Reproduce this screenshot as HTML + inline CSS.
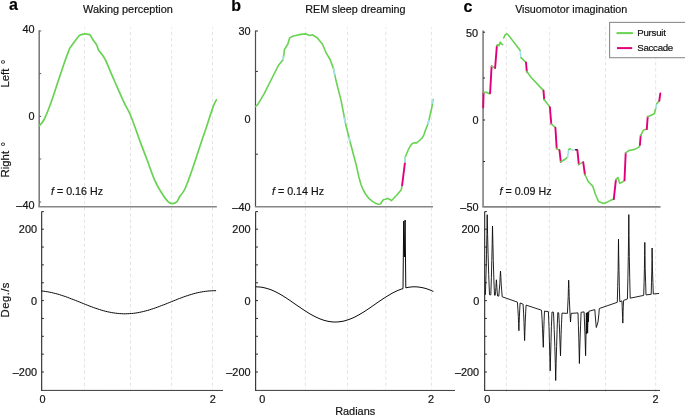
<!DOCTYPE html>
<html><head><meta charset="utf-8"><title>Figure</title>
<style>
html,body{margin:0;padding:0;background:#fff;}
body{width:685px;height:415px;overflow:hidden;}
svg{display:block;font-family:"Liberation Sans",sans-serif;fill:#141414;}
text{stroke:#141414;stroke-width:0.2px;}
</style></head><body>
<svg width="685" height="415" viewBox="0 0 685 415">
<rect x="0" y="0" width="685" height="415" fill="#fff"/>
<line x1="84.5" y1="27.5" x2="84.5" y2="389.5" stroke="#e1e1e1" stroke-width="0.9" stroke-dasharray="3.4 2.647" stroke-dashoffset="1.7"/>
<line x1="130.5" y1="27.5" x2="130.5" y2="389.5" stroke="#e1e1e1" stroke-width="0.9" stroke-dasharray="3.4 2.647" stroke-dashoffset="1.7"/>
<line x1="171.6" y1="27.5" x2="171.6" y2="389.5" stroke="#e1e1e1" stroke-width="0.9" stroke-dasharray="3.4 2.647" stroke-dashoffset="1.7"/>
<line x1="212.5" y1="27.5" x2="212.5" y2="389.5" stroke="#e1e1e1" stroke-width="0.9" stroke-dasharray="3.4 2.647" stroke-dashoffset="1.7"/>
<line x1="305.4" y1="27.5" x2="305.4" y2="389.5" stroke="#e1e1e1" stroke-width="0.9" stroke-dasharray="3.4 2.647" stroke-dashoffset="1.7"/>
<line x1="347.5" y1="27.5" x2="347.5" y2="389.5" stroke="#e1e1e1" stroke-width="0.9" stroke-dasharray="3.4 2.647" stroke-dashoffset="1.7"/>
<line x1="385.8" y1="27.5" x2="385.8" y2="389.5" stroke="#e1e1e1" stroke-width="0.9" stroke-dasharray="3.4 2.647" stroke-dashoffset="1.7"/>
<line x1="431.4" y1="27.5" x2="431.4" y2="389.5" stroke="#e1e1e1" stroke-width="0.9" stroke-dasharray="3.4 2.647" stroke-dashoffset="1.7"/>
<line x1="506.4" y1="27.5" x2="506.4" y2="395" stroke="#e1e1e1" stroke-width="0.9" stroke-dasharray="3.4 2.647" stroke-dashoffset="1.7"/>
<line x1="549.4" y1="27.5" x2="549.4" y2="395" stroke="#e1e1e1" stroke-width="0.9" stroke-dasharray="3.4 2.647" stroke-dashoffset="1.7"/>
<line x1="605.5" y1="27.5" x2="605.5" y2="395" stroke="#e1e1e1" stroke-width="0.9" stroke-dasharray="3.4 2.647" stroke-dashoffset="1.7"/>
<line x1="655.7" y1="27.5" x2="655.7" y2="395" stroke="#e1e1e1" stroke-width="0.9" stroke-dasharray="3.4 2.647" stroke-dashoffset="1.7"/>
<line x1="39.2" y1="30.3" x2="39.2" y2="207" stroke="#7d7d7d" stroke-width="1.6" />
<line x1="38.4" y1="206.8" x2="216.8" y2="206.8" stroke="#858585" stroke-width="1.6" />
<line x1="39.3" y1="31" x2="41.2" y2="31" stroke="#5a5a5a" stroke-width="1" />
<line x1="39.3" y1="73.6" x2="41.2" y2="73.6" stroke="#5a5a5a" stroke-width="1" />
<line x1="39.3" y1="116.4" x2="41.2" y2="116.4" stroke="#5a5a5a" stroke-width="1" />
<line x1="39.3" y1="159" x2="41.2" y2="159" stroke="#5a5a5a" stroke-width="1" />
<line x1="39.3" y1="202" x2="41.2" y2="202" stroke="#5a5a5a" stroke-width="1" />
<line x1="41.65" y1="211.5" x2="41.65" y2="391" stroke="#3a3a3a" stroke-width="1.2" />
<line x1="41.05" y1="390.4" x2="223" y2="390.45" stroke="#3a3a3a" stroke-width="1.0" />
<line x1="41.8" y1="211.6" x2="43.9" y2="211.6" stroke="#2a2a2a" stroke-width="1" />
<line x1="41.8" y1="229.2" x2="43.9" y2="229.2" stroke="#2a2a2a" stroke-width="1" />
<line x1="41.8" y1="247.04999999999998" x2="43.9" y2="247.04999999999998" stroke="#2a2a2a" stroke-width="1" />
<line x1="41.8" y1="264.9" x2="43.9" y2="264.9" stroke="#2a2a2a" stroke-width="1" />
<line x1="41.8" y1="282.75" x2="43.9" y2="282.75" stroke="#2a2a2a" stroke-width="1" />
<line x1="41.8" y1="300.6" x2="43.9" y2="300.6" stroke="#2a2a2a" stroke-width="1" />
<line x1="41.8" y1="318.45" x2="43.9" y2="318.45" stroke="#2a2a2a" stroke-width="1" />
<line x1="41.8" y1="336.3" x2="43.9" y2="336.3" stroke="#2a2a2a" stroke-width="1" />
<line x1="41.8" y1="354.15" x2="43.9" y2="354.15" stroke="#2a2a2a" stroke-width="1" />
<line x1="41.8" y1="372.0" x2="43.9" y2="372.0" stroke="#2a2a2a" stroke-width="1" />
<line x1="255.5" y1="30.5" x2="255.5" y2="207" stroke="#4c4c4c" stroke-width="1.2" />
<line x1="254.9" y1="206.8" x2="433" y2="206.8" stroke="#858585" stroke-width="1.6" />
<line x1="255.8" y1="31" x2="257.9" y2="31" stroke="#2a2a2a" stroke-width="1" />
<line x1="255.8" y1="71.4" x2="257.9" y2="71.4" stroke="#2a2a2a" stroke-width="1" />
<line x1="255.8" y1="154.2" x2="257.9" y2="154.2" stroke="#2a2a2a" stroke-width="1" />
<line x1="255.6" y1="211.5" x2="255.6" y2="391" stroke="#3a3a3a" stroke-width="1.2" />
<line x1="255.0" y1="390.4" x2="455" y2="390.45" stroke="#3a3a3a" stroke-width="1.0" />
<line x1="255.9" y1="211.6" x2="258.0" y2="211.6" stroke="#2a2a2a" stroke-width="1" />
<line x1="255.9" y1="229.2" x2="258.0" y2="229.2" stroke="#2a2a2a" stroke-width="1" />
<line x1="255.9" y1="247.04999999999998" x2="258.0" y2="247.04999999999998" stroke="#2a2a2a" stroke-width="1" />
<line x1="255.9" y1="264.9" x2="258.0" y2="264.9" stroke="#2a2a2a" stroke-width="1" />
<line x1="255.9" y1="282.75" x2="258.0" y2="282.75" stroke="#2a2a2a" stroke-width="1" />
<line x1="255.9" y1="300.6" x2="258.0" y2="300.6" stroke="#2a2a2a" stroke-width="1" />
<line x1="255.9" y1="318.45" x2="258.0" y2="318.45" stroke="#2a2a2a" stroke-width="1" />
<line x1="255.9" y1="336.3" x2="258.0" y2="336.3" stroke="#2a2a2a" stroke-width="1" />
<line x1="255.9" y1="354.15" x2="258.0" y2="354.15" stroke="#2a2a2a" stroke-width="1" />
<line x1="255.9" y1="372.0" x2="258.0" y2="372.0" stroke="#2a2a2a" stroke-width="1" />
<line x1="483.05" y1="30.5" x2="483.05" y2="207" stroke="#4c4c4c" stroke-width="1.15" />
<line x1="482.5" y1="206.9" x2="660.5" y2="206.9" stroke="#858585" stroke-width="1.6" />
<line x1="483.0" y1="32.2" x2="485.1" y2="32.2" stroke="#2a2a2a" stroke-width="1" />
<line x1="483.0" y1="78" x2="485.1" y2="78" stroke="#2a2a2a" stroke-width="1" />
<line x1="483.0" y1="120" x2="485.1" y2="120" stroke="#2a2a2a" stroke-width="1" />
<line x1="483.0" y1="161.5" x2="485.1" y2="161.5" stroke="#2a2a2a" stroke-width="1" />
<line x1="484.65" y1="211.5" x2="484.65" y2="391" stroke="#3a3a3a" stroke-width="1.2" />
<line x1="484.05" y1="390.4" x2="660" y2="390.45" stroke="#3a3a3a" stroke-width="1.0" />
<line x1="484.8" y1="211.6" x2="486.9" y2="211.6" stroke="#2a2a2a" stroke-width="1" />
<line x1="484.8" y1="229.2" x2="486.9" y2="229.2" stroke="#2a2a2a" stroke-width="1" />
<line x1="484.8" y1="247.04999999999998" x2="486.9" y2="247.04999999999998" stroke="#2a2a2a" stroke-width="1" />
<line x1="484.8" y1="264.9" x2="486.9" y2="264.9" stroke="#2a2a2a" stroke-width="1" />
<line x1="484.8" y1="282.75" x2="486.9" y2="282.75" stroke="#2a2a2a" stroke-width="1" />
<line x1="484.8" y1="300.6" x2="486.9" y2="300.6" stroke="#2a2a2a" stroke-width="1" />
<line x1="484.8" y1="318.45" x2="486.9" y2="318.45" stroke="#2a2a2a" stroke-width="1" />
<line x1="484.8" y1="336.3" x2="486.9" y2="336.3" stroke="#2a2a2a" stroke-width="1" />
<line x1="484.8" y1="354.15" x2="486.9" y2="354.15" stroke="#2a2a2a" stroke-width="1" />
<line x1="484.8" y1="372.0" x2="486.9" y2="372.0" stroke="#2a2a2a" stroke-width="1" />
<path d="M39.4,125.6 C40.2,124.6 42.1,123.4 44.1,119.5 C46.1,115.6 48.8,108.6 51.1,102.2 C53.5,95.8 56.1,87.3 58.2,81.0 C60.3,74.7 62.4,68.4 63.9,64.1 C65.4,59.7 66.2,57.5 67.2,54.9 C68.2,52.3 68.9,50.1 69.6,48.6 C70.3,47.1 70.6,47.1 71.6,45.7 C72.6,44.3 74.1,42.1 75.4,40.4 C76.7,38.7 78.2,36.6 79.3,35.6 C80.4,34.6 81.2,34.7 82.2,34.4 C83.2,34.1 84.0,33.9 85.1,33.9 C86.1,33.9 87.6,34.1 88.5,34.3 C89.4,34.5 89.6,34.3 90.3,35.2 C91.0,36.1 91.8,37.9 92.8,39.5 C93.8,41.1 95.6,43.0 96.6,44.8 C97.6,46.6 97.6,48.4 98.6,50.1 C99.6,51.8 101.3,53.3 102.4,54.9 C103.5,56.5 104.5,58.2 105.3,59.7 C106.1,61.2 105.8,60.5 107.3,64.1 C108.8,67.6 111.7,74.7 114.5,81.0 C117.3,87.3 121.2,96.3 123.9,102.2 C126.6,108.1 128.2,109.6 130.9,116.2 C133.6,122.8 137.6,134.7 140.3,142.1 C143.1,149.5 145.1,154.6 147.4,160.8 C149.8,167.1 152.1,174.3 154.4,179.6 C156.8,184.9 159.2,189.1 161.5,192.8 C163.8,196.5 166.2,199.8 168.0,201.6 C169.8,203.4 170.9,203.6 172.4,203.6 C173.9,203.6 175.8,202.7 177.0,201.6 C178.2,200.5 178.2,198.9 179.5,196.8 C180.8,194.7 182.8,193.4 184.9,189.0 C187.0,184.6 189.7,176.8 192.0,170.2 C194.3,163.5 196.7,156.1 199.0,149.1 C201.3,142.1 203.8,135.0 206.1,128.0 C208.4,121.0 211.4,111.6 213.1,106.9 C214.8,102.2 215.8,101.0 216.4,99.8" fill="none" stroke="#68d352" stroke-width="1.7" stroke-linecap="round" stroke-linejoin="round"/>
<polyline points="255.6,106.5 257.9,104.3 264.2,93.7 271.8,78.5 278.2,65.8 283.2,59.5 284.5,49.4 287.8,44.3 289.6,38.0 293.4,36.0 300.9,34.4 306.0,33.9 309.8,35.4 312.3,34.7 317.4,38.0 322.5,44.3 326.3,53.2 330.1,59.5 333.4,68.4 336.4,82.3 341.0,100.1 345.8,124.7 350.1,142.0 355.9,163.7 358.8,176.7 361.0,184.5 363.1,189.7 365.5,194.0 368.9,198.4 372.5,201.3 376.1,203.6 378.5,204.3 380.5,204.0 382.0,201.5 383.4,199.8 385.5,199.2 387.7,198.4 389.5,199.2 391.4,200.7 393.5,198.5 396.4,195.5 401.3,189.7 402.1,185.4" fill="none" stroke="#68d352" stroke-width="1.6" stroke-linejoin="round" stroke-linecap="round" />
<polyline points="283.1,56.5 283.3,60.0" fill="none" stroke="#a5e0ee" stroke-width="1.6" stroke-linejoin="round" stroke-linecap="round" />
<polyline points="333.5,68.6 334.6,74.5" fill="none" stroke="#a5e0ee" stroke-width="1.6" stroke-linejoin="round" stroke-linecap="round" />
<polyline points="344.3,118.0 345.2,122.5" fill="none" stroke="#a5e0ee" stroke-width="1.6" stroke-linejoin="round" stroke-linecap="round" />
<polyline points="348.8,137.5 349.8,141.0" fill="none" stroke="#a5e0ee" stroke-width="1.6" stroke-linejoin="round" stroke-linecap="round" />
<polyline points="402.1,185.4 405.0,162.3" fill="none" stroke="#e2007a" stroke-width="1.9" stroke-linejoin="round" stroke-linecap="round" />
<polyline points="405.0,162.3 405.3,157.0 407.9,150.7 410.0,146.5 412.3,143.5 414.5,142.8 416.6,142.9 419.5,140.5 422.4,137.7 424.0,134.5 425.3,130.5 428.2,123.2 430.2,114.6 431.9,107.3 432.6,101.6 433.1,99.6" fill="none" stroke="#68d352" stroke-width="1.6" stroke-linejoin="round" stroke-linecap="round" />
<polyline points="405.0,162.3 405.3,157.5" fill="none" stroke="#a5e0ee" stroke-width="1.6" stroke-linejoin="round" stroke-linecap="round" />
<polyline points="428.0,123.8 428.9,120.5" fill="none" stroke="#a5e0ee" stroke-width="1.6" stroke-linejoin="round" stroke-linecap="round" />
<polyline points="432.2,103.0 432.7,100.0" fill="none" stroke="#a5e0ee" stroke-width="1.6" stroke-linejoin="round" stroke-linecap="round" />
<polyline points="483.2,107.5 483.6,92.4" fill="none" stroke="#e2007a" stroke-width="1.9" stroke-linejoin="round" stroke-linecap="round" />
<polyline points="483.6,92.4 486.5,92.2 489.3,93.7" fill="none" stroke="#68d352" stroke-width="1.6" stroke-linejoin="round" stroke-linecap="round" />
<polyline points="490.1,93.2 491.6,66.3" fill="none" stroke="#e2007a" stroke-width="1.9" stroke-linejoin="round" stroke-linecap="round" />
<polyline points="491.6,66.3 493.5,67.0 495.1,68.4" fill="none" stroke="#68d352" stroke-width="1.6" stroke-linejoin="round" stroke-linecap="round" />
<polyline points="495.1,67.8 496.9,45.6" fill="none" stroke="#e2007a" stroke-width="1.9" stroke-linejoin="round" stroke-linecap="round" />
<polyline points="496.9,45.6 498.0,44.6 499.0,45.6 500.2,42.0 501.4,44.0 502.7,44.6" fill="none" stroke="#68d352" stroke-width="1.6" stroke-linejoin="round" stroke-linecap="round" />
<polyline points="503.7,38.0 505.0,35.0 507.0,33.7 508.5,35.2 520.2,50.6" fill="none" stroke="#68d352" stroke-width="1.6" stroke-linejoin="round" stroke-linecap="round" />
<polyline points="520.2,51.5 521.0,57.7" fill="none" stroke="#a5e0ee" stroke-width="1.6" stroke-linejoin="round" stroke-linecap="round" />
<polyline points="521.0,57.7 526.0,62.5" fill="none" stroke="#68d352" stroke-width="1.6" stroke-linejoin="round" stroke-linecap="round" />
<polyline points="526.0,62.5 526.8,71.6" fill="none" stroke="#e2007a" stroke-width="1.9" stroke-linejoin="round" stroke-linecap="round" />
<polyline points="526.8,71.6 531.0,77.2 543.5,90.6" fill="none" stroke="#68d352" stroke-width="1.6" stroke-linejoin="round" stroke-linecap="round" />
<polyline points="543.5,90.6 544.2,99.5" fill="none" stroke="#e2007a" stroke-width="1.9" stroke-linejoin="round" stroke-linecap="round" />
<polyline points="544.2,99.5 546.4,102.4 549.9,107.3" fill="none" stroke="#68d352" stroke-width="1.6" stroke-linejoin="round" stroke-linecap="round" />
<polyline points="549.9,107.3 551.3,124.0" fill="none" stroke="#e2007a" stroke-width="1.9" stroke-linejoin="round" stroke-linecap="round" />
<polyline points="551.3,124.0 555.4,127.7" fill="none" stroke="#68d352" stroke-width="1.6" stroke-linejoin="round" stroke-linecap="round" />
<polyline points="555.4,127.7 556.7,148.5" fill="none" stroke="#e2007a" stroke-width="1.9" stroke-linejoin="round" stroke-linecap="round" />
<polyline points="556.7,148.5 559.5,150.3" fill="none" stroke="#68d352" stroke-width="1.6" stroke-linejoin="round" stroke-linecap="round" />
<polyline points="559.5,150.3 560.8,161.8" fill="none" stroke="#e2007a" stroke-width="1.9" stroke-linejoin="round" stroke-linecap="round" />
<polyline points="560.8,161.8 565.0,159.3 567.6,157.2" fill="none" stroke="#68d352" stroke-width="1.6" stroke-linejoin="round" stroke-linecap="round" />
<polyline points="567.6,157.2 568.7,149.4" fill="none" stroke="#a5e0ee" stroke-width="1.6" stroke-linejoin="round" stroke-linecap="round" />
<polyline points="568.7,149.4 570.5,148.8" fill="none" stroke="#68d352" stroke-width="1.6" stroke-linejoin="round" stroke-linecap="round" />
<polyline points="571.2,150.0 574.2,150.0" fill="none" stroke="#a5e0ee" stroke-width="1.6" stroke-linejoin="round" stroke-linecap="round" />
<polyline points="575.6,149.7 577.2,149.9" fill="none" stroke="#222" stroke-width="1.6" stroke-linejoin="round" stroke-linecap="round" />
<polyline points="577.4,150.3 578.8,164.4" fill="none" stroke="#e2007a" stroke-width="1.9" stroke-linejoin="round" stroke-linecap="round" />
<polyline points="578.8,164.4 583.2,162.1" fill="none" stroke="#68d352" stroke-width="1.6" stroke-linejoin="round" stroke-linecap="round" />
<polyline points="583.2,162.1 584.9,174.5" fill="none" stroke="#e2007a" stroke-width="1.9" stroke-linejoin="round" stroke-linecap="round" />
<polyline points="584.9,174.5 588.4,181.8 592.7,186.1 595.6,194.8 598.5,201.4 602.9,203.2 605.7,202.9 610.1,200.6 613.8,199.1" fill="none" stroke="#68d352" stroke-width="1.6" stroke-linejoin="round" stroke-linecap="round" />
<polyline points="613.8,199.1 615.9,179.8" fill="none" stroke="#e2007a" stroke-width="1.9" stroke-linejoin="round" stroke-linecap="round" />
<polyline points="615.9,179.8 617.9,177.4 619.6,183.2 623.1,181.8 624.5,180.3" fill="none" stroke="#68d352" stroke-width="1.6" stroke-linejoin="round" stroke-linecap="round" />
<polyline points="624.5,180.3 625.7,152.9" fill="none" stroke="#e2007a" stroke-width="1.9" stroke-linejoin="round" stroke-linecap="round" />
<polyline points="625.7,152.9 628.9,150.5 634.7,149.4 639.0,147.1 639.9,144.8" fill="none" stroke="#68d352" stroke-width="1.6" stroke-linejoin="round" stroke-linecap="round" />
<polyline points="639.9,144.8 640.7,135.5" fill="none" stroke="#e2007a" stroke-width="1.9" stroke-linejoin="round" stroke-linecap="round" />
<polyline points="640.7,135.5 643.3,130.3 646.8,129.1" fill="none" stroke="#68d352" stroke-width="1.6" stroke-linejoin="round" stroke-linecap="round" />
<polyline points="646.8,129.1 647.7,116.7" fill="none" stroke="#e2007a" stroke-width="1.9" stroke-linejoin="round" stroke-linecap="round" />
<polyline points="647.7,116.7 654.3,113.8 655.8,108.0" fill="none" stroke="#68d352" stroke-width="1.6" stroke-linejoin="round" stroke-linecap="round" />
<polyline points="655.8,108.0 656.7,103.7" fill="none" stroke="#a5e0ee" stroke-width="1.6" stroke-linejoin="round" stroke-linecap="round" />
<polyline points="656.7,103.7 659.3,100.8" fill="none" stroke="#68d352" stroke-width="1.6" stroke-linejoin="round" stroke-linecap="round" />
<polyline points="659.3,100.8 660.3,93.4" fill="none" stroke="#e2007a" stroke-width="1.9" stroke-linejoin="round" stroke-linecap="round" />
<polyline points="41.7,291.0 43.7,291.2 45.7,291.5 47.7,291.8 49.7,292.2 51.7,292.6 53.7,293.1 55.7,293.6 57.7,294.1 59.7,294.7 61.7,295.4 63.7,296.0 65.7,296.7 67.7,297.4 69.7,298.2 71.7,299.0 73.7,299.7 75.7,300.5 77.7,301.3 79.7,302.1 81.7,302.9 83.7,303.7 85.7,304.5 87.7,305.3 89.7,306.1 91.7,306.8 93.7,307.6 95.7,308.3 97.7,308.9 99.7,309.6 101.7,310.2 103.7,310.8 105.7,311.3 107.7,311.8 109.7,312.2 111.7,312.6 113.7,312.9 115.7,313.2 117.7,313.4 119.7,313.6 121.7,313.7 123.7,313.8 125.7,313.8 127.7,313.7 129.7,313.6 131.7,313.5 133.7,313.3 135.7,313.0 137.7,312.7 139.7,312.3 141.7,311.9 143.7,311.4 145.7,310.9 147.7,310.4 149.7,309.8 151.7,309.1 153.7,308.5 155.7,307.8 157.7,307.1 159.7,306.3 161.7,305.5 163.7,304.8 165.7,304.0 167.7,303.2 169.7,302.4 171.7,301.6 173.7,300.8 175.7,300.0 177.7,299.2 179.7,298.4 181.7,297.7 183.7,296.9 185.7,296.2 187.7,295.6 189.7,294.9 191.7,294.3 193.7,293.7 195.7,293.2 197.7,292.7 199.7,292.3 201.7,291.9 203.7,291.6 205.7,291.3 207.7,291.1 209.7,290.9 211.7,290.8 213.7,290.7 215.7,290.7" fill="none" stroke="#0a0a0a" stroke-width="1.0" stroke-linejoin="round" stroke-linecap="round" />
<polyline points="256.0,286.8 258.0,286.9 260.0,287.0 262.0,287.3 264.0,287.7 266.0,288.2 268.0,288.8 270.0,289.4 272.0,290.2 274.0,291.1 276.0,292.0 278.0,293.1 280.0,294.2 282.0,295.3 284.0,296.6 286.0,297.8 288.0,299.2 290.0,300.5 292.0,301.9 294.0,303.3 296.0,304.7 298.0,306.1 300.0,307.4 302.0,308.8 304.0,310.1 306.0,311.4 308.0,312.7 310.0,313.9 312.0,315.0 314.0,316.1 316.0,317.1 318.0,318.0 320.0,318.9 322.0,319.6 324.0,320.3 326.0,320.8 328.0,321.3 330.0,321.6 332.0,321.9 334.0,322.0 336.0,322.0 338.0,321.9 340.0,321.7 342.0,321.4 344.0,321.0 346.0,320.4 348.0,319.8 350.0,319.1 352.0,318.3 354.0,317.4 356.0,316.4 358.0,315.3 360.0,314.2 362.0,313.0 364.0,311.8 366.0,310.5 368.0,309.1 370.0,307.8 372.0,306.4 374.0,305.0 376.0,303.6 378.0,302.2 380.0,300.8 382.0,299.5 384.0,298.2 386.0,296.9 388.0,295.7 390.0,294.5 392.0,293.3 394.0,292.3 396.0,291.3 398.0,290.4 400.0,289.6 402.0,288.9 403.0,288.6 403.7,221.0 404.4,257.0 405.1,220.0 405.8,287.8 407.0,287.6 409.0,287.2 411.0,287.0 413.0,286.8 415.0,286.8 417.0,286.9 419.0,287.1 421.0,287.4 423.0,287.8 425.0,288.3 427.0,288.9 429.0,289.6 431.0,290.4 433.0,291.3" fill="none" stroke="#0a0a0a" stroke-width="1.0" stroke-linejoin="round" stroke-linecap="round" />
<polyline points="484.9,294.0 485.4,294.6 486.0,274.6 486.5,254.7 486.9,234.7 487.2,214.7 487.6,234.7 488.1,254.7 488.7,274.7 489.5,294.7 490.7,294.8 490.8,294.8 491.4,277.6 491.8,260.4 492.2,243.2 492.5,226.0 492.9,243.3 493.3,260.6 493.8,277.9 494.5,295.2 495.2,295.3 495.6,291.4 495.9,287.6 496.1,283.7 496.4,279.8 496.7,283.9 496.9,287.9 497.2,291.9 497.6,296.0 498.8,296.1 499.3,289.9 499.8,283.6 500.1,277.4 500.5,271.1 500.9,277.5 501.2,284.0 501.7,290.4 502.2,296.8 517.4,302.1 517.9,309.2 518.3,316.4 518.6,323.6 518.9,330.7 519.1,323.8 519.4,316.9 519.7,309.9 520.1,303.0 523.1,304.2 523.6,313.3 524.0,322.4 524.3,331.5 524.6,340.6 524.9,331.7 525.2,322.9 525.6,314.0 526.1,305.1 541.5,310.2 542.1,319.5 542.5,328.8 542.9,338.0 543.3,347.3 543.5,338.2 543.8,329.2 544.1,320.2 544.5,311.1 548.4,311.7 549.0,326.5 549.4,341.2 549.8,356.0 550.2,370.8 550.6,356.1 551.0,341.4 551.4,326.7 552.0,312.0 553.5,312.3 554.2,329.4 554.8,346.4 555.3,363.4 555.7,380.5 556.1,363.5 556.6,346.6 557.1,329.6 557.8,312.6 558.7,312.8 559.3,323.6 559.7,334.3 560.1,345.1 560.5,355.8 560.8,345.1 561.1,334.5 561.5,323.8 562.0,313.1 567.4,313.4 567.8,305.1 568.2,296.8 568.4,288.5 568.7,280.2 569.0,288.5 569.2,296.8 569.6,305.1 570.0,313.4 570.5,322.0 571.1,313.4 578.0,312.9 578.4,325.5 578.8,338.2 579.1,350.9 579.4,363.5 579.7,350.7 580.1,337.9 580.6,325.1 581.1,312.3 584.1,311.9 585.0,335.0 585.6,355.7 586.0,335.0 586.4,313.0 586.7,334.0 587.2,312.5 587.6,333.0 588.1,312.0 588.4,322.0 588.8,311.3 594.8,309.6 595.6,320.0 596.3,327.5 598.0,322.0 598.8,315.0 599.3,308.5 617.3,302.3 617.7,286.5 618.1,270.7 618.3,254.9 618.5,239.1 618.7,254.8 619.0,270.4 619.3,286.1 619.8,301.7 621.9,300.9 622.2,306.4 622.4,312.0 622.6,317.6 622.8,323.1 623.0,317.4 623.1,311.8 623.3,306.1 623.6,300.4 627.4,299.0 627.9,277.9 628.3,256.8 628.6,235.7 628.8,214.6 629.0,235.5 629.3,256.4 629.7,277.3 630.2,298.2 643.7,295.4 644.1,282.1 644.4,268.9 644.6,255.7 644.8,242.4 645.0,255.5 645.2,268.6 645.6,281.8 646.0,294.9 651.2,294.3 651.5,282.7 651.8,271.1 652.0,259.6 652.1,248.0 652.3,259.5 652.5,271.0 652.9,282.5 653.3,294.0 658.7,293.5" fill="none" stroke="#0a0a0a" stroke-width="0.9" stroke-linejoin="round" stroke-linecap="round" stroke-linejoin="miter"/>
<rect x="609.6" y="22.4" width="80" height="35.3" fill="#fff" stroke="#8c8c8c" stroke-width="1.1"/>
<line x1="616.5" y1="33.1" x2="632.9" y2="33.1" stroke="#68d352" stroke-width="2" />
<line x1="617" y1="48.1" x2="632.2" y2="48.1" stroke="#e2007a" stroke-width="2" />
<text x="637.3" y="36.0" text-anchor="start" font-size="9.7" letter-spacing="-0.27">Pursuit</text>
<text x="637.3" y="51.4" text-anchor="start" font-size="9.7" letter-spacing="-0.3">Saccade</text>
<text x="9.1" y="9.6" text-anchor="start" font-size="16" font-weight="bold" fill="#000">a</text>
<text x="231.3" y="11.2" text-anchor="start" font-size="16" font-weight="bold" fill="#000">b</text>
<text x="463.5" y="11.5" text-anchor="start" font-size="16" font-weight="bold" fill="#000">c</text>
<text x="128" y="12.9" text-anchor="middle" font-size="10.9" >Waking perception</text>
<text x="355.4" y="12.9" text-anchor="middle" font-size="10.75" >REM sleep dreaming</text>
<text x="571.2" y="12.9" text-anchor="middle" font-size="10.75" >Visuomotor imagination</text>
<text x="34.5" y="32.7" text-anchor="end" font-size="10.9" >40</text>
<text x="34.5" y="120.3" text-anchor="end" font-size="10.9" >0</text>
<text x="34.5" y="208.8" text-anchor="end" font-size="10.9" >–40</text>
<text x="37" y="233" text-anchor="end" font-size="10.9" >200</text>
<text x="37" y="304.5" text-anchor="end" font-size="10.9" >0</text>
<text x="37" y="376" text-anchor="end" font-size="10.9" >–200</text>
<text x="42.5" y="403" text-anchor="middle" font-size="10.9" >0</text>
<text x="212.8" y="403" text-anchor="middle" font-size="10.9" >2</text>
<text x="250.5" y="34.8" text-anchor="end" font-size="10.9" >30</text>
<text x="250.5" y="122.8" text-anchor="end" font-size="10.9" >0</text>
<text x="250.5" y="211.1" text-anchor="end" font-size="10.9" >–40</text>
<text x="250.5" y="233" text-anchor="end" font-size="10.9" >200</text>
<text x="250.5" y="304.5" text-anchor="end" font-size="10.9" >0</text>
<text x="250.5" y="376" text-anchor="end" font-size="10.9" >–200</text>
<text x="262.2" y="403" text-anchor="middle" font-size="10.9" >0</text>
<text x="431" y="403" text-anchor="middle" font-size="10.9" >2</text>
<text x="478.2" y="36.6" text-anchor="end" font-size="10.9" >50</text>
<text x="478.5" y="123.8" text-anchor="end" font-size="10.9" >0</text>
<text x="478.5" y="211.0" text-anchor="end" font-size="10.9" >–50</text>
<text x="479.6" y="233" text-anchor="end" font-size="10.9" >200</text>
<text x="479.2" y="304.5" text-anchor="end" font-size="10.9" >0</text>
<text x="479.2" y="376" text-anchor="end" font-size="10.9" >–200</text>
<text x="487.2" y="403" text-anchor="middle" font-size="10.9" >0</text>
<text x="655.6" y="403" text-anchor="middle" font-size="10.9" >2</text>
<text x="335.2" y="414.5" text-anchor="start" font-size="10.9" >Radians</text>
<text x="51" y="195.2" font-size="10.7"><tspan font-style="italic">f</tspan> = 0.16 Hz</text>
<text x="272" y="195.2" font-size="10.7"><tspan font-style="italic">f</tspan> = 0.14 Hz</text>
<text x="499.5" y="195.2" font-size="10.7"><tspan font-style="italic">f</tspan> = 0.09 Hz</text>
<text transform="translate(9.0,87.6) rotate(-90)" font-size="11.4">Left<tspan dx="1.2"> °</tspan></text>
<text transform="translate(9.0,177.5) rotate(-90)" font-size="11.4">Right<tspan dx="1.2"> °</tspan></text>
<text transform="translate(9.0,317.4) rotate(-90)" font-size="11.3" letter-spacing="0.45">Deg./s</text>
</svg>
</body></html>
